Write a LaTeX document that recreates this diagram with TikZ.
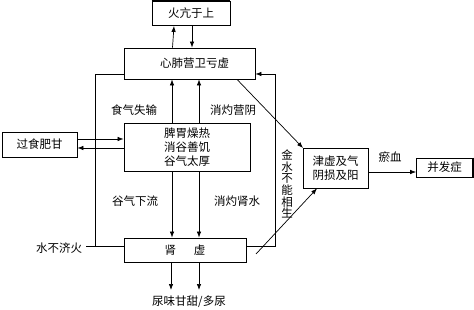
\documentclass[tikz,border=0pt]{standalone}
\usepackage{fontspec}
\setmainfont{Noto Sans CJK SC}
\usetikzlibrary{arrows.meta}
\begin{document}
\begin{tikzpicture}[x=1pt,y=-1pt,
  every node/.style={font=\fontsize{11.5}{14}\selectfont, inner sep=0pt},
  box/.style={draw, line width=0.8pt, rectangle},
  arr/.style={line width=0.7pt, -{Latex[length=6pt,width=4.5pt]}},
  ln/.style={line width=0.7pt}]
\useasboundingbox (0,0) rectangle (474,310);
\node[box, minimum width=78pt, minimum height=24pt] (fire) at (191,13.5) {火亢于上};
\node[box, minimum width=131pt, minimum height=31pt] (heart) at (189.5,63.5) {\hspace{10pt}心肺营卫亏虚};
\node[box, minimum width=126pt, minimum height=48pt, align=center] (spleen) at (187,147) {脾胃燥热\\[0pt]消谷善饥\\[0pt]谷气太厚};
\node[box, minimum width=122pt, minimum height=24pt] (kidney) at (185,250) {肾\hspace{18pt}虚};
\node[box, minimum width=75pt, minimum height=25pt] (food) at (39.5,144.5) {过食肥甘};
\node[box, minimum width=65pt, minimum height=40pt, align=center] (jin) at (335.5,168) {津虚及气\\[0pt]阴损及阳};
\node[box, minimum width=56pt, minimum height=19pt] (comp) at (444.5,167.5) {并发症};
% thicker edges
\draw[line width=2pt] (fire.north west) -- (fire.north east);
\draw[line width=1.6pt] (comp.north east) -- (comp.south east) -- (comp.south west);

\node (l1) at (134,110) {食气失输};
\node (l2) at (233,110) {消灼营阴};
\node (l3) at (135,201) {谷气下流};
\node (l4) at (237,201) {消灼肾水};
\node (l5) at (59,248) {水不济火};
\node (l6) at (189,302) {尿味甘甜/多尿};
\node (l7) at (390,157) {瘀血};
\node[align=center, font=\fontsize{11.5}{11.7}\selectfont] (l8) at (287,184) {金\\水\\不\\能\\相\\生};

% top arrows
\draw[arr] (heart.north -| 172.5,0) -- (fire.south -| 174,0);
\draw[arr] (fire.south -| 192,0) -- (heart.north -| 192,0);
% spleen to heart
\draw[arr] (spleen.north -| 172,0) -- (heart.south -| 172,0);
\draw[arr] (spleen.north -| 199,0) -- (heart.south -| 199,0);
% food <-> spleen
\draw[arr] (food.east |- 0,139) -- (spleen.west |- 0,139);
\draw[arr] (spleen.west |- 0,148) -- (food.east |- 0,148);
% spleen to kidney
\draw[arr] (spleen.south -| 172,0) -- (kidney.north -| 172,0);
\draw[arr] (spleen.south -| 199,0) -- (kidney.north -| 199,0);
% kidney down
\coordinate (d1) at (171,290);
\coordinate (d2) at (199,290);
\draw[arr] (kidney.south -| d1) -- (d1);
\draw[arr] (kidney.south -| d2) -- (d2);
% left loop
\coordinate (lb) at (95,246);
\coordinate (lt) at (95,74);
\coordinate (ls) at (86,246);
\draw[ln] (ls) -- (kidney.west |- ls);
\draw[ln] (lb) -- (lt) -- (heart.west |- lt);
% right loop
\coordinate (rb) at (275,246);
\coordinate (rt) at (275,74);
\draw[ln] (kidney.east |- rb) -- (rb) -- (rt);
\draw[arr] (rt) -- (heart.east |- rt);
% diagonals
\draw[arr] (heart.south -| 237,0) -- (303,148);
\coordinate (ks) at (256,254);
\draw[arr] (ks) -- (jin.south -| 317,0);
% jin to comp
\draw[arr] (jin.east |- 0,172) -- (comp.west |- 0,172);
\end{tikzpicture}
\end{document}
